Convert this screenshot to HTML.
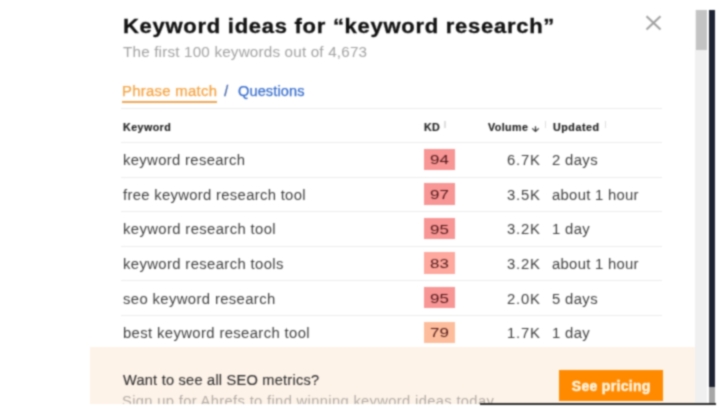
<!DOCTYPE html>
<html>
<head>
<meta charset="utf-8">
<style>
html,body{margin:0;padding:0;width:728px;height:409px;overflow:hidden;background:#fff;}
body{position:relative;font-family:"Liberation Sans",sans-serif;}
#wrap{position:absolute;left:0;top:0;width:728px;height:409px;background:#fff;filter:url(#sb);}
.abs{position:absolute;white-space:nowrap;}
.title{color:#111;-webkit-text-stroke:0.3px #111;}
.sub{color:#a2a2a2;}
.tab1{color:#f4a444;-webkit-text-stroke:0.25px #f4a444;}
.tab2{color:#376dcc;-webkit-text-stroke:0.25px #376dcc;}
.slash{color:#4062a8;-webkit-text-stroke:0.3px #4062a8;}
.hl{left:121px;width:541px;height:1px;background:#ececec;}
.th{color:#1e1e1e;-webkit-text-stroke:0.15px #1e1e1e;}
.kw,.vol,.upd{color:#404040;}
.bn{color:#501818;}
.badge{left:424px;width:30.5px;height:21.5px;}
.footer{left:90px;top:346.5px;width:605.3px;height:57.7px;background:#fef3e9;}
.ft1{color:#333;-webkit-text-stroke:0.15px #333;}
.ft2{color:#b2aca6;}
.btn{left:559px;top:369.5px;width:104px;height:31px;background:#ff8a00;}
.btnt{color:#fff3e0;-webkit-text-stroke:0.45px #fff3e0;}
.track{left:695.3px;top:9.5px;width:12.2px;height:393.5px;background:#f0f0f0;}
.thumb{left:696.2px;top:9.6px;width:11.3px;height:40.5px;background:#c3c3c3;}
.dark{left:708.8px;top:9.8px;width:6.6px;height:377.2px;background:#1e2333;}
.darkgray{left:708.8px;top:387px;width:6.6px;height:16px;background:#a6a6a6;}
.bline{left:480px;top:403.2px;width:236px;height:1.4px;background:#2a2a2a;}
.below{left:0;top:404.2px;width:728px;height:5px;background:#fff;}
</style>
</head>
<body><svg width="0" height="0" style="position:absolute"><filter id="sb" x="0" y="0" width="100%" height="100%" color-interpolation-filters="sRGB"><feConvolveMatrix order="5" kernelMatrix="0.00023 0.00332 0.00809 0.00332 0.00023 0.00332 0.04785 0.11640 0.04785 0.00332 0.00809 0.11640 0.28313 0.11640 0.00809 0.00332 0.04785 0.11640 0.04785 0.00332 0.00023 0.00332 0.00809 0.00332 0.00023" edgeMode="duplicate"/></filter></svg><div id="wrap">
<div class="abs title" style="left:122.80px;top:15.77px;font-size:20px;line-height:20px;font-weight:bold;letter-spacing:0.660px;transform:scaleX(1.1);transform-origin:0 0;">Keyword ideas for “keyword research”</div>
<div class="abs sub" style="left:123.00px;top:44.63px;font-size:14.5px;line-height:14.5px;letter-spacing:0.174px;transform:scaleX(1.05);transform-origin:0 0;">The first 100 keywords out of 4,673</div>
<svg class="abs" style="left:645px;top:15px" width="17" height="16" viewBox="0 0 17 16"><path d="M1.5 1.2L15.5 14.4M15.5 1.2L1.5 14.4" stroke="#a0a0a0" stroke-width="2" fill="none"/></svg>
<div class="abs tab1" style="left:122.14px;top:83.75px;font-size:14px;line-height:14px;letter-spacing:0.288px;transform:scaleX(1.06);transform-origin:0 0;">Phrase match</div>
<div class="abs" style="left:122px;top:100.9px;width:94.5px;height:1.7px;background:#eda75a"></div>
<div class="abs slash" style="left:224.30px;top:83.75px;font-size:14px;line-height:14px;">/</div>
<div class="abs tab2" style="left:237.56px;top:83.75px;font-size:14px;line-height:14px;letter-spacing:0.111px;transform:scaleX(1.04);transform-origin:0 0;">Questions</div>
<div class="abs hl" style="top:107.7px"></div>
<div class="abs th" style="left:123.33px;top:122.94px;font-size:10px;line-height:10px;font-weight:bold;letter-spacing:0.394px;transform:scaleX(1.07);transform-origin:0 0;">Keyword</div>
<div class="abs th" style="left:424.23px;top:122.94px;font-size:10px;line-height:10px;font-weight:bold;letter-spacing:0.178px;transform:scaleX(1.07);transform-origin:0 0;">KD</div>
<div class="abs th" style="left:488.30px;top:122.94px;font-size:10px;line-height:10px;font-weight:bold;letter-spacing:0.383px;transform:scaleX(1.07);transform-origin:0 0;">Volume</div>
<div class="abs th" style="left:552.73px;top:122.94px;font-size:10px;line-height:10px;font-weight:bold;letter-spacing:0.509px;transform:scaleX(1.07);transform-origin:0 0;">Updated</div>
<svg class="abs" style="left:531px;top:126px" width="9" height="6" viewBox="0 0 9 6"><path d="M4.5 0.3V5.2M1.2 2.4L4.5 5.4L7.8 2.4" stroke="#3a3a3a" stroke-width="1.25" fill="none"/></svg>
<div class="abs" style="left:444px;top:120.5px;width:1.5px;height:7px;background:#dedede"></div>
<div class="abs" style="left:544.5px;top:120.5px;width:1.5px;height:7px;background:#dedede"></div>
<div class="abs" style="left:604.5px;top:120.5px;width:1.5px;height:7px;background:#dedede"></div>
<div class="abs hl" style="top:142.0px"></div>
<div class="abs badge" style="top:148.7px;background:#f89595"></div>
<div class="abs kw" style="left:122.50px;top:153.15px;font-size:14px;line-height:14px;letter-spacing:0.312px;transform:scaleX(1.06);transform-origin:0 0;">keyword research</div>
<div class="abs bn" style="left:430.35px;top:153.37px;font-size:13.5px;line-height:13.5px;transform:scaleX(1.25);transform-origin:0 0;">94</div>
<div class="abs vol" style="left:507.04px;top:153.15px;font-size:14px;line-height:14px;letter-spacing:0.750px;transform:scaleX(1.06);transform-origin:0 0;">6.7K</div>
<div class="abs upd" style="left:552.34px;top:153.15px;font-size:14px;line-height:14px;letter-spacing:0.350px;transform:scaleX(1.06);transform-origin:0 0;">2 days</div>
<div class="abs hl" style="top:176.5px"></div>
<div class="abs badge" style="top:183.2px;background:#f89595"></div>
<div class="abs kw" style="left:122.50px;top:187.75px;font-size:14px;line-height:14px;letter-spacing:0.289px;transform:scaleX(1.06);transform-origin:0 0;">free keyword research tool</div>
<div class="abs bn" style="left:430.35px;top:187.97px;font-size:13.5px;line-height:13.5px;transform:scaleX(1.25);transform-origin:0 0;">97</div>
<div class="abs vol" style="left:507.04px;top:187.75px;font-size:14px;line-height:14px;letter-spacing:0.750px;transform:scaleX(1.06);transform-origin:0 0;">3.5K</div>
<div class="abs upd" style="left:552.34px;top:187.75px;font-size:14px;line-height:14px;letter-spacing:0.276px;transform:scaleX(1.06);transform-origin:0 0;">about 1 hour</div>
<div class="abs hl" style="top:211.0px"></div>
<div class="abs badge" style="top:217.7px;background:#f89595"></div>
<div class="abs kw" style="left:122.50px;top:222.35px;font-size:14px;line-height:14px;letter-spacing:0.350px;transform:scaleX(1.06);transform-origin:0 0;">keyword research tool</div>
<div class="abs bn" style="left:430.35px;top:222.57px;font-size:13.5px;line-height:13.5px;transform:scaleX(1.25);transform-origin:0 0;">95</div>
<div class="abs vol" style="left:507.04px;top:222.35px;font-size:14px;line-height:14px;letter-spacing:0.750px;transform:scaleX(1.06);transform-origin:0 0;">3.2K</div>
<div class="abs upd" style="left:552.34px;top:222.35px;font-size:14px;line-height:14px;letter-spacing:0.350px;transform:scaleX(1.06);transform-origin:0 0;">1 day</div>
<div class="abs hl" style="top:245.5px"></div>
<div class="abs badge" style="top:252.2px;background:#fea89e"></div>
<div class="abs kw" style="left:122.50px;top:256.95px;font-size:14px;line-height:14px;letter-spacing:0.350px;transform:scaleX(1.06);transform-origin:0 0;">keyword research tools</div>
<div class="abs bn" style="left:430.35px;top:257.17px;font-size:13.5px;line-height:13.5px;transform:scaleX(1.25);transform-origin:0 0;">83</div>
<div class="abs vol" style="left:507.04px;top:256.95px;font-size:14px;line-height:14px;letter-spacing:0.750px;transform:scaleX(1.06);transform-origin:0 0;">3.2K</div>
<div class="abs upd" style="left:552.34px;top:256.95px;font-size:14px;line-height:14px;letter-spacing:0.276px;transform:scaleX(1.06);transform-origin:0 0;">about 1 hour</div>
<div class="abs hl" style="top:280.2px"></div>
<div class="abs badge" style="top:286.9px;background:#f89595"></div>
<div class="abs kw" style="left:122.50px;top:291.55px;font-size:14px;line-height:14px;letter-spacing:0.350px;transform:scaleX(1.06);transform-origin:0 0;">seo keyword research</div>
<div class="abs bn" style="left:430.35px;top:291.77px;font-size:13.5px;line-height:13.5px;transform:scaleX(1.25);transform-origin:0 0;">95</div>
<div class="abs vol" style="left:507.04px;top:291.55px;font-size:14px;line-height:14px;letter-spacing:0.750px;transform:scaleX(1.06);transform-origin:0 0;">2.0K</div>
<div class="abs upd" style="left:552.34px;top:291.55px;font-size:14px;line-height:14px;letter-spacing:0.350px;transform:scaleX(1.06);transform-origin:0 0;">5 days</div>
<div class="abs hl" style="top:314.9px"></div>
<div class="abs badge" style="top:321.6px;background:#fdbd9c"></div>
<div class="abs kw" style="left:122.50px;top:326.15px;font-size:14px;line-height:14px;letter-spacing:0.350px;transform:scaleX(1.06);transform-origin:0 0;">best keyword research tool</div>
<div class="abs bn" style="left:430.35px;top:326.37px;font-size:13.5px;line-height:13.5px;transform:scaleX(1.25);transform-origin:0 0;">79</div>
<div class="abs vol" style="left:507.04px;top:326.15px;font-size:14px;line-height:14px;letter-spacing:0.750px;transform:scaleX(1.06);transform-origin:0 0;">1.7K</div>
<div class="abs upd" style="left:552.34px;top:326.15px;font-size:14px;line-height:14px;letter-spacing:0.350px;transform:scaleX(1.06);transform-origin:0 0;">1 day</div>
<div class="abs footer"></div>
<div class="abs ft1" style="left:122.50px;top:372.95px;font-size:14px;line-height:14px;letter-spacing:0.229px;transform:scaleX(1.04);transform-origin:0 0;">Want to see all SEO metrics?</div>
<div class="abs ft2" style="left:121.95px;top:394.15px;font-size:14px;line-height:14px;letter-spacing:0.337px;transform:scaleX(1.05);transform-origin:0 0;">Sign up for Ahrefs to find winning keyword ideas today</div>
<div class="abs btn"></div>
<div class="abs btnt" style="left:571.80px;top:378.95px;font-size:14px;line-height:14px;font-weight:bold;letter-spacing:0.310px;">See pricing</div>
<div class="abs below"></div>
<div class="abs track"></div>
<div class="abs thumb"></div>
<div class="abs dark"></div>
<div class="abs darkgray"></div>
<div class="abs bline"></div>
</div></body>
</html>
